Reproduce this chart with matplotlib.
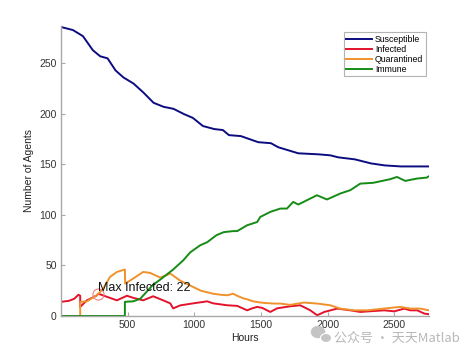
import matplotlib
matplotlib.use("Agg")
import matplotlib.pyplot as plt
from matplotlib.patches import Ellipse

# ---- data ----
S_t = [1, 90, 165, 240, 295, 350, 410, 470, 545, 620, 695, 770, 845, 920, 990,
       1065, 1150, 1215, 1260, 1350, 1480, 1575, 1630, 1705, 1780, 1930, 2020,
       2080, 2205, 2325, 2430, 2550, 2760]
S_v = [286, 283, 277, 263, 257, 255, 243, 236, 230, 221, 211, 207, 205, 200, 196,
       188, 185, 184, 179, 178, 172, 171, 167, 164, 161, 160, 159, 157, 155, 151,
       149, 148, 148]

I_t = [1, 60, 100, 132, 145, 145, 195, 265, 282, 345, 420, 495, 542, 617, 692,
       767, 820, 842, 895, 992, 1097, 1142, 1247, 1322, 1397, 1435, 1472, 1510,
       1570, 1622, 1720, 1795, 1870, 1922, 1975, 2072, 2170, 2245, 2320, 2425,
       2500, 2575, 2620, 2672, 2725, 2760]
I_v = [14, 15, 17, 21, 20, 9, 15.5, 20, 22, 19, 15.5, 20, 18, 15.5, 19.5,
       15.5, 12.5, 7.5, 10.5, 12.5, 14.5, 12.5, 10.6, 10, 5.6, 7.6, 9, 8,
       4, 7.6, 9.6, 10.6, 5.6, 0.7, 4, 7.3, 5.6, 4, 4.7, 5.6,
       4.6, 7.3, 5.6, 5.6, 2.4, 1.7]

Q_t = [1, 145, 145, 195, 270, 317, 368, 420, 480, 482, 542, 617, 670, 745, 820,
       895, 992, 1050, 1097, 1142, 1200, 1247, 1292, 1322, 1367, 1397, 1442,
       1487, 1535, 1600, 1645, 1720, 1822, 1922, 2020, 2095, 2200, 2297, 2372,
       2470, 2545, 2620, 2695, 2760]
Q_v = [0, 0, 14, 14.5, 20.5, 27, 38.6, 43.6, 46, 32, 37, 43.6, 42.6, 38, 42,
       35, 28.7, 25, 23.5, 22, 21, 20.5, 22, 20, 17.5, 16.5, 14.5,
       13.5, 12.8, 12.3, 12.3, 11, 13.3, 12.3, 10.6, 7.3, 5.6, 5.6, 6.6,
       8, 9, 7.3, 7.3, 5.6]

R_t = [1, 480, 480, 542, 595, 650, 692, 745, 842, 917, 970, 1045, 1097, 1167,
       1222, 1292, 1322, 1397, 1472, 1495, 1570, 1645, 1695, 1742, 1780, 1920,
       1995, 2095, 2170, 2245, 2342, 2470, 2520, 2582, 2670, 2745, 2755]
R_v = [0, 0, 14, 14.5, 17, 25, 31, 36, 46, 55, 63, 70, 73, 80,
       83, 84, 84, 89.8, 93, 98, 103, 106.3, 106.3, 112.9, 110.3, 119.5,
       115.3, 121.2, 124.5, 131, 131.8, 135.4, 137.6, 133.7, 136, 137, 138]

labels = ["Susceptible", "Infected", "Quarantined", "Immune"]
colors = ["#0c0c80", "#e3132b", "#ef922c", "#168c16"]

max_t, max_v = 282, 22

# ---- figure ----
plt.rcParams['font.family'] = ['Liberation Sans', 'DejaVu Sans']
fig = plt.figure(figsize=(4.74, 3.55), dpi=100)
ax = fig.add_axes([0.1287, 0.1099, 0.905 - 0.1287, 0.9268 - 0.1099])

for t, v, lab, c in zip([S_t, I_t, Q_t, R_t], [S_v, I_v, Q_v, R_v], labels, colors):
    ax.plot(t, v, color=c, lw=1.4, label=lab)

ax.plot([max_t], [max_v], 'o', mfc='none', mec='#f08080', ms=8, mew=0.8)
ax.text(max_t, max_v + 5.5, "Max Infected: %d" % max_v, fontsize=9,
        va='center', ha='left', color='#111111')

ax.set_xlim(1, 2760)
ax.set_ylim(0, 287)
ax.set_xticks([500, 1000, 1500, 2000, 2500])
ax.set_yticks([0, 50, 100, 150, 200, 250])
for side in ['top', 'right']:
    ax.spines[side].set_visible(False)
for side in ['left', 'bottom']:
    ax.spines[side].set_color('#a8a8a8')
    ax.spines[side].set_linewidth(1.0)
ax.tick_params(direction='in', length=3, color='#a8a8a8', labelsize=7.5,
               labelcolor='#333333', pad=3)
ax.set_xlabel("Hours", fontsize=7.5, color='#222222', labelpad=2)
ax.set_ylabel("Number of Agents", fontsize=7.5, color='#222222', labelpad=4)

leg = ax.legend(loc='upper left', bbox_to_anchor=(0.768, 0.978), fontsize=6.3,
                frameon=True, fancybox=False, borderpad=0.3, labelspacing=0.1,
                handlelength=3.0, handletextpad=0.3, borderaxespad=0)
leg.get_frame().set_edgecolor('#a0a0a0')
leg.get_frame().set_linewidth(0.8)

# watermark (WeChat-style icon + text)
W, H = 474.0, 355.0
fig.patches.append(Ellipse((318 / W, 1 - 332 / H), 13 / W, 11 / H,
                           transform=fig.transFigure, color='#c4c4c4', zorder=5))
fig.patches.append(Ellipse((326 / W, 1 - 338 / H), 11 / W, 9 / H,
                           transform=fig.transFigure, color='#c4c4c4', ec='white',
                           lw=0.8, zorder=6))
fig.text(334 / W, 1 - 338 / H, "公众号 · 天天Matlab", fontsize=9.4, color='#b8b8b8',
         family=['Noto Sans CJK SC', 'DejaVu Sans'], va='center', ha='left')

fig.savefig("out.png", dpi=100)
